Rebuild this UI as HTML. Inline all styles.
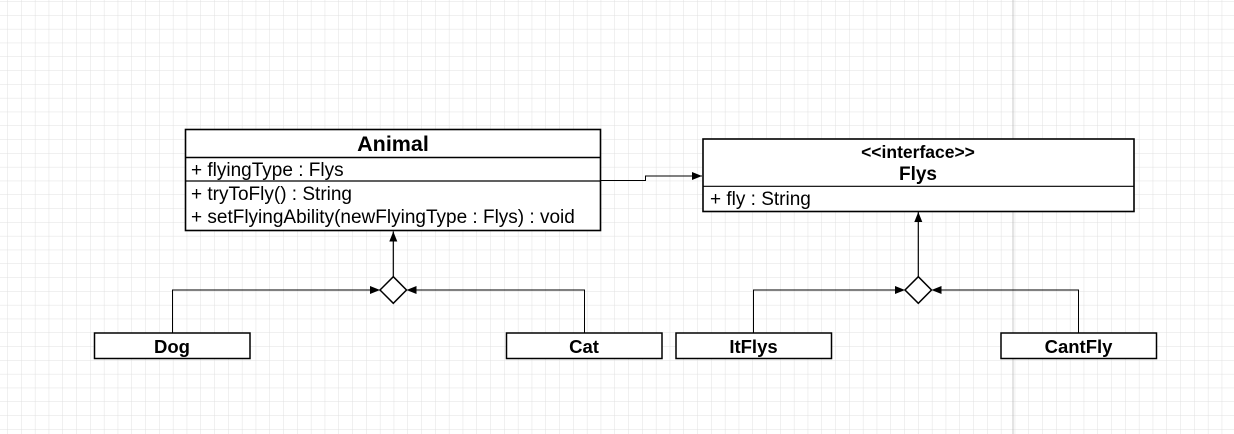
<!DOCTYPE html>
<html><head><meta charset="utf-8"><style>
html,body{margin:0;padding:0;background:#fff;}
svg{display:block;}
text{font-family:"Liberation Sans",Arial,sans-serif;fill:#000;}
</style></head><body>
<svg width="1234" height="434" viewBox="0 0 1234 434" xmlns="http://www.w3.org/2000/svg">
<defs>
<pattern id="g" x="7.3" y="1.3" width="13.8" height="13.8" patternUnits="userSpaceOnUse">
<path d="M0 0H13.8M0 0V13.8" stroke="#e0e0e0" stroke-width="1" fill="none"/>
</pattern>
<marker id="a" markerWidth="10" markerHeight="10" refX="10" refY="5" orient="auto" markerUnits="userSpaceOnUse">
<path d="M0 1L10 5L0 9Z" fill="#000"/>
</marker>
</defs>
<rect width="1234" height="434" fill="url(#g)"/>
<line x1="1013" y1="0" x2="1013" y2="434" stroke="#bbbbbb" stroke-width="0.8"/>

<!-- Animal -->
<rect x="185.5" y="129.5" width="415" height="101" fill="#fff" stroke="#000" stroke-width="1.6"/>
<line x1="185.5" y1="157.5" x2="600.5" y2="157.5" stroke="#000" stroke-width="1.4"/>
<line x1="185.5" y1="181" x2="600.5" y2="181" stroke="#000" stroke-width="1.2"/>
<text x="393" y="151" font-size="21.5" font-weight="bold" text-anchor="middle">Animal</text>
<text x="191" y="176" font-size="19">+ flyingType : Flys</text>
<text x="191" y="200" font-size="19">+ tryToFly() : String</text>
<text x="191" y="223" font-size="19">+ setFlyingAbility(newFlyingType : Flys) : void</text>

<!-- Flys -->
<rect x="703" y="139" width="431" height="72.5" fill="#fff" stroke="#000" stroke-width="1.6"/>
<line x1="703" y1="186.3" x2="1134" y2="186.3" stroke="#000" stroke-width="1.2"/>
<text x="918" y="158" font-size="17.5" font-weight="bold" text-anchor="middle">&lt;&lt;interface&gt;&gt;</text>
<text x="918" y="180" font-size="19" font-weight="bold" text-anchor="middle">Flys</text>
<text x="710" y="205" font-size="19">+ fly : String</text>

<!-- association -->
<path d="M601 180.5H645.5V176H702" fill="none" stroke="#000" stroke-width="1" marker-end="url(#a)"/>

<!-- Animal hierarchy -->
<path d="M393.3 276.5V231.5" stroke="#000" stroke-width="1.2" fill="none" marker-end="url(#a)"/>
<polygon points="393.3,276.7 406.5,290 393.3,303.3 380,290" fill="#fff" stroke="#000" stroke-width="1.5"/>
<path d="M172.5 333V290H380" fill="none" stroke="#000" stroke-width="1" marker-end="url(#a)"/>
<path d="M584.5 333V290H406.5" fill="none" stroke="#000" stroke-width="1" marker-end="url(#a)"/>
<rect x="94.5" y="333" width="155.5" height="25.5" fill="#fff" stroke="#000" stroke-width="1.5"/>
<text x="172" y="353" font-size="18.5" font-weight="bold" text-anchor="middle">Dog</text>
<rect x="506.5" y="333" width="155.5" height="25.5" fill="#fff" stroke="#000" stroke-width="1.5"/>
<text x="584" y="353" font-size="18.5" font-weight="bold" text-anchor="middle">Cat</text>

<!-- Flys hierarchy -->
<path d="M918.3 276.5V212" stroke="#000" stroke-width="1.2" fill="none" marker-end="url(#a)"/>
<polygon points="918.3,276.7 931.5,290 918.3,303.3 905,290" fill="#fff" stroke="#000" stroke-width="1.5"/>
<path d="M753.5 333V290H905" fill="none" stroke="#000" stroke-width="1" marker-end="url(#a)"/>
<path d="M1078.5 333V290H931.5" fill="none" stroke="#000" stroke-width="1" marker-end="url(#a)"/>
<rect x="676" y="333" width="155.5" height="25.5" fill="#fff" stroke="#000" stroke-width="1.5"/>
<text x="753.5" y="353" font-size="18.5" font-weight="bold" text-anchor="middle">ItFlys</text>
<rect x="1001" y="333" width="155.5" height="25.5" fill="#fff" stroke="#000" stroke-width="1.5"/>
<text x="1078.5" y="353" font-size="18.5" font-weight="bold" text-anchor="middle">CantFly</text>
</svg>
</body></html>
